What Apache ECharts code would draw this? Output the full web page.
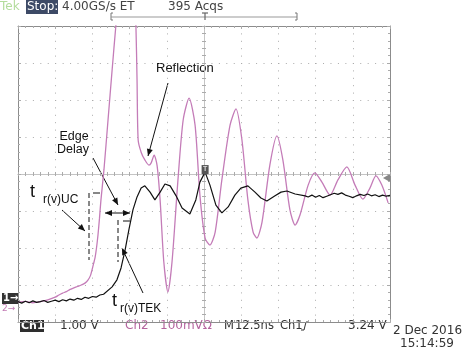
<!DOCTYPE html>
<html><head><meta charset="utf-8">
<script src="https://cdn.jsdelivr.net/npm/echarts@6/dist/echarts.min.js"></script>
<style>html,body{margin:0;padding:0;background:#fff}#c{width:474px;height:355px}</style>
</head><body><div id="c"></div>
<script>
// Time in divisions relative to trigger (12.5 ns/div), amplitude in divisions
const ch1Time = [-5.0,-4.9,-4.8,-4.7,-4.6,-4.5,-4.4,-4.3,-4.2,-4.1,-4.0,-3.9,-3.8,-3.7,-3.6,-3.5,-3.4,-3.3,-3.2,-3.1,-3.0,-2.9,-2.8,-2.7,
  -2.47,-2.34,-2.23,-2.12,-2.02,-1.91,-1.80,-1.69,-1.59,-1.45,-1.32,-1.18,-1.05,-0.91,-0.75,-0.59,-0.38,-0.22,-0.11,0.03,0.16,0.32,0.48,0.65,0.83,0.99,1.18,1.37,1.53,1.69,1.91,2.07,2.23,2.45,2.72,
  2.8,2.9,3.0,3.1,3.2,3.3,3.4,3.5,3.6,3.7,3.8,3.9,4.0,4.1,4.2,4.3,4.4,4.5,4.6,4.7,4.8,4.9,5.0];
const ch1Level = [-3.45,-3.49,-3.44,-3.48,-3.43,-3.47,-3.45,-3.42,-3.47,-3.44,-3.41,-3.45,-3.40,-3.43,-3.38,-3.41,-3.36,-3.39,-3.33,-3.36,-3.31,-3.33,-3.27,-3.25,
  -3.05,-2.86,-2.54,-2.05,-1.51,-0.97,-0.62,-0.38,-0.32,-0.49,-0.70,-0.49,-0.27,-0.32,-0.59,-0.92,-1.08,-0.70,-0.22,0.05,-0.30,-0.84,-1.05,-0.89,-0.57,-0.38,-0.32,-0.49,-0.65,-0.73,-0.59,-0.49,-0.46,-0.54,-0.59,
  -0.62,-0.57,-0.63,-0.58,-0.64,-0.60,-0.56,-0.52,-0.55,-0.51,-0.57,-0.60,-0.64,-0.59,-0.55,-0.58,-0.54,-0.59,-0.56,-0.61,-0.57,-0.60,-0.58];
const ch2Time = [-5.0,-4.8,-4.6,-4.4,-4.2,-4.0,-3.9,-3.8,-3.7,-3.6,-3.5,-3.4,-3.3,-3.2,-3.12,-3.05,-3.01,-2.97,-2.93,-2.89,-2.85,-2.81,-2.77,-2.69,-2.58,-2.47,-2.37,-2.2,-2.05,-1.9,-1.83,-1.80,-1.77,-1.69,-1.59,-1.48,-1.42,-1.34,-1.26,-1.18,-1.08,-0.97,-0.86,-0.70,-0.56,-0.40,-0.24,-0.11,0.03,0.16,0.30,0.48,0.70,0.86,1.02,1.18,1.32,1.42,1.56,1.77,1.96,2.12,2.31,2.45,2.58,2.80,2.98,3.17,3.39,3.60,3.84,4.06,4.27,4.46,4.62,4.78,4.95];
const ch2Level = [-3.46,-3.44,-3.48,-3.45,-3.40,-3.33,-3.27,-3.22,-3.18,-3.12,-3.08,-3.04,-3.00,-2.95,-2.87,-2.74,-2.59,-2.43,-2.27,-2.0,-1.65,-1.2,-0.70,0.11,1.46,2.81,4.0,5.8,6.5,5.8,4.0,2.54,0.92,0.59,0.38,0.24,0.30,0.51,0.22,-0.70,-2.38,-3.19,-2.38,-0.16,1.46,2.05,1.32,-0.57,-1.73,-1.92,-1.57,-0.16,1.32,1.76,0.92,-0.70,-1.57,-1.73,-1.30,0.24,1.03,0.38,-0.97,-1.38,-1.11,-0.30,0.03,-0.22,-0.57,-0.16,0.19,-0.30,-0.68,-0.38,-0.05,-0.30,-0.78];
const headerTexts = ['Stop:', '4.00GS/s ET', '395 Acqs'];
const statusTexts = ['1.00 V', 'Ch2', '100mV\u03A9', 'M', '12.5ns', 'Ch1', '3.24 V', '2 Dec 2016', '15:14:59'];

const zip = (a, b) => a.map((v, i) => [v, b[i]]);
const chart = echarts.init(document.getElementById('c'));
const G = '#ababab', F = '#8c8c8c';
const FONT = 'DejaVu Sans', AF = 'Liberation Sans';
const base = {type:'value', min:-5, max:5, interval:1, axisLabel:{show:false}, splitLine:{show:false}};
const ybase = {type:'value', min:-4, max:4, interval:1, axisLabel:{show:false}, splitLine:{show:false}};
const centerAxis = (b, pos) => Object.assign({}, b, {position:pos,
  axisLine:{show:true, onZero:true, onZeroAxisIndex:0, lineStyle:{color:'#c4c4c4', width:1}},
  axisTick:{show:true, inside:false, length:2, lineStyle:{color:G}},
  minorTick:{show:true, splitNumber:5, length:2, lineStyle:{color:G}}});
const frameAxis = (b, pos) => Object.assign({}, b, {position:pos,
  axisLine:{show:true, onZero:false, lineStyle:{color:F, width:1}},
  axisTick:{show:true, inside:true, length:3, lineStyle:{color:G}},
  minorTick:{show:true, splitNumber:5, length:2, lineStyle:{color:G}}});

function head(tx, ty, fx, fy) {
  const a = Math.atan2(ty - fy, tx - fx), L = 7, W = 3;
  const c = Math.cos(a), s = Math.sin(a);
  return {type:'polygon', shape:{points:[[tx,ty],[tx-L*c+W*s, ty-L*s-W*c],[tx-L*c-W*s, ty-L*s+W*c]]}, style:{fill:'#111'}};
}
function arrow(x1, y1, x2, y2, both) {
  const els = [{type:'line', shape:{x1,y1,x2,y2}, style:{stroke:'#111', lineWidth:1}}, head(x2,y2,x1,y1)];
  if (both) els.push(head(x1,y1,x2,y2));
  return els;
}
const txt = (x, y, t, o) => ({type:'text', x, y, style:Object.assign({text:t, fill:'#111', font:'12px ' + AF, textVerticalAlign:'middle'}, o || {})});
const dline = (x1,y1,x2,y2,dash) => ({type:'line', shape:{x1,y1,x2,y2}, style:{stroke:'#111', lineWidth:1, lineDash:dash || null}});
const hf = (s) => s + 'px ' + FONT;

const graphic = [
  // header
  txt(0, 7, 'Tek', {fill:'#b3dc9c', font:hf(12)}),
  {type:'rect', shape:{x:26, y:0, width:32, height:14}, style:{fill:'#3d4a66'}},
  txt(27, 7, headerTexts[0], {fill:'#fff', font:hf(12)}),
  txt(62, 7, headerTexts[1], {fill:'#444', font:hf(12)}),
  txt(168, 7, headerTexts[2], {fill:'#444', font:hf(12)}),
  {type:'polyline', shape:{points:[[113,13],[111,13],[111,20],[113,20]]}, style:{stroke:'#777', fill:null, lineWidth:1}},
  {type:'line', shape:{x1:111, y1:17, x2:297, y2:17}, style:{stroke:'#999', lineWidth:1}},
  {type:'polyline', shape:{points:[[295,13],[297,13],[297,20],[295,20]]}, style:{stroke:'#777', fill:null, lineWidth:1}},
  {type:'line', shape:{x1:202, y1:13, x2:208, y2:13}, style:{stroke:'#666', lineWidth:1.2}},
  {type:'line', shape:{x1:205, y1:13, x2:205, y2:20}, style:{stroke:'#666', lineWidth:1.2}},
  // left ground markers
  {type:'rect', shape:{x:2, y:293, width:17, height:11}, style:{fill:'#333'}},
  txt(3, 298.5, '1\u2192', {fill:'#fff', font:'bold ' + hf(10)}),
  txt(2, 309, '2\u2192', {fill:'#c27ab4', font:hf(9)}),
  // trigger level marker
  {type:'polygon', shape:{points:[[383,178],[390,174],[390,182]]}, style:{fill:'#888'}},
  // status line
  {type:'rect', shape:{x:20, y:320, width:24, height:12}, style:{fill:'#2e2e2e'}},
  txt(21, 326, 'Ch1', {fill:'#fff', font:'bold ' + hf(11)}),
  txt(60, 326, statusTexts[0], {fill:'#333', font:hf(12)}),
  txt(125, 326, statusTexts[1], {fill:'#b4649e', font:hf(12)}),
  txt(160, 326, statusTexts[2], {fill:'#b4649e', font:hf(12)}),
  txt(224, 326, statusTexts[3], {fill:'#333', font:hf(11.5)}),
  txt(235, 326, statusTexts[4], {fill:'#333', font:hf(11.5)}),
  txt(280, 326, statusTexts[5], {fill:'#333', font:hf(11.5)}),
  {type:'polyline', shape:{points:[[301,330],[304,330],[306,322],[309,322]]}, style:{stroke:'#333', fill:null, lineWidth:1}},
  txt(348, 326, statusTexts[6], {fill:'#333', font:hf(12)}),
  txt(393, 331, statusTexts[7], {fill:'#333', font:hf(12)}),
  txt(400, 344, statusTexts[8], {fill:'#333', font:hf(12)}),
  // annotations
  txt(156, 68, 'Reflection', {font:'13px ' + AF}),
  ...arrow(168, 83, 148, 156),
  txt(74, 137, 'Edge', {textAlign:'center', font:'12.5px ' + AF}),
  txt(73, 150, 'Delay', {textAlign:'center', font:'12.5px ' + AF}),
  ...arrow(93, 158, 118, 205),
  ...arrow(105, 213, 130, 213, true),
  txt(30, 192, 't', {font:'18px ' + AF}),
  txt(43, 200, 'r(v)UC'),
  ...arrow(62, 210, 85, 231),
  dline(89, 193, 89, 260, [5, 3]),
  dline(93, 193, 100, 193),
  dline(118, 220, 118, 262, [5, 3]),
  dline(123, 221, 130, 221),
  txt(112, 301, 't', {font:'18px ' + AF}),
  txt(120, 309, 'r(v)TEK'),
  ...arrow(143, 293, 122, 248)
];

chart.setOption({
  animation:false,
  backgroundColor:'#fff',
  grid:{left:18, right:84, top:26, bottom:33, show:false},
  xAxis:[
    Object.assign(centerAxis(base, 'bottom'), {splitLine:{show:true, lineStyle:{color:G, width:1, type:[1, 6.4]}}}),
    centerAxis(base, 'top'),
    frameAxis(base, 'top'),
    frameAxis(base, 'bottom')
  ],
  yAxis:[
    Object.assign(centerAxis(ybase, 'left'), {splitLine:{show:true, lineStyle:{color:G, width:1, type:[1, 6.44]}}}),
    centerAxis(ybase, 'right'),
    frameAxis(ybase, 'left'),
    frameAxis(ybase, 'right')
  ],
  series:[
    {type:'line', name:'Ch2', data:zip(ch2Time, ch2Level), xAxisIndex:0, yAxisIndex:0, smooth:0.25, showSymbol:false, clip:true,
     lineStyle:{color:'#c47cb8', width:1.3}},
    {type:'line', name:'Ch1', data:zip(ch1Time, ch1Level), xAxisIndex:0, yAxisIndex:0, smooth:false, showSymbol:false, clip:true,
     lineStyle:{color:'#111', width:1.2},
     markPoint:{symbol:'rect', symbolSize:[7, 9], silent:true, itemStyle:{color:'#555'},
       label:{show:true, formatter:'T', color:'#ddd', fontSize:7, fontWeight:'bold'},
       data:[{coord:[0.03, 0.12]}]}}
  ],
  graphic:graphic
});
</script></body></html>
